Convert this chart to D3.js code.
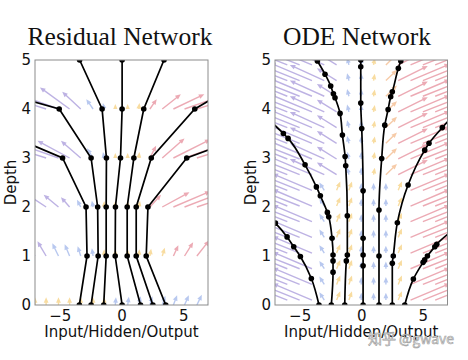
<!DOCTYPE html>
<html>
<head>
<meta charset="utf-8">
<script src="https://d3js.org/d3.v7.min.js"></script>
<style>
  body { margin: 0; background: #fff; }
  svg { display: block; }
</style>
</head>
<body>
<div id="chart"></div>
<script>
// ---------- data ----------
var depthTicks = [0, 1, 2, 3, 4, 5];
var xTicks = [-5, 0, 5];
var xTickLabels = ["\u22125", "0", "5"];

// residual network: unit values at layer 0..5 (values outside the frame get clipped)
var resDepth = [0, 1, 2, 3, 4, 5];
var resT1 = [-3.41, -2.79, -2.87, -4.77, -14.1];
var resT2 = [-2.46, -1.89, -1.93, -2.46, -5.04, -19];
var resT3 = [-1.44, -1.24, -1.24, -1.22, -1.57, -3.39];
var resT4 = [0.05, -0.51, -0.49, -0.08, 0.05, 0.05];
var resT5 = [1.54, 0.46, 0.46, 1.0, 1.8, 3.44];
var resT6 = [2.54, 1.19, 1.19, 2.41, 5.93, 12.6];
var resT7 = [3.58, 2.0, 2.14, 5.28, 16];

// residual field, one row of arrows per layer
var resCols = [-7, -6.1, -5.1, -4.2, -3.3, -2.3, -1.4, -0.5, 0.5, 1.4, 2.3, 3.3, 4.2, 5.1, 6.1, 7];
var resU0 = [0, 0, 0, 0, 0, 0, 0, 0.05, 0.1, 0.15, 0.2, 0.25, 0.3, 0.35, 0.4, 0.4];
var resV0 = [0.16, 0.16, 0.16, 0.16, 0.16, 0.16, 0.16, 0.16, 0.17, 0.18, 0.18, 0.19, 0.2, 0.2, 0.21, 0.21];
var resC0 = "YYYYYYYBBBBBBBBB";
var resU1 = [-0.9, -0.7, -0.5, -0.4, -0.25, -0.1, 0, 0, 0, 0.05, 0.1, 0.2, 0.4, 0.7, 1.0, 1.2];
var resV1 = [0.32, 0.3, 0.26, 0.24, 0.2, 0.16, 0.14, 0.14, 0.14, 0.14, 0.15, 0.17, 0.22, 0.28, 0.32, 0.34];
var resC1 = "PPBBBBYYYYYYRRRR";
var resU2 = [-2.2, -1.8, -1.2, -0.7, -0.3, -0.1, 0, 0, 0, 0.1, 0.9, 2.2, 3.0, 3.5, 4, 4.5];
var resV2 = [0.3, 0.3, 0.25, 0.2, 0.15, 0.13, 0.12, 0.12, 0.12, 0.13, 0.25, 0.3, 0.32, 0.34, 0.35, 0.36];
var resC2 = "PPPPBBYYYYRRRRRR";
var resU3 = [-5, -4.2, -3.4, -2.6, -1.6, -0.5, -0.1, 0, 0, 0.05, 0.5, 1.8, 3, 4, 4.5, 5];
var resV3 = [0.35, 0.33, 0.3, 0.35, 0.35, 0.2, 0.12, 0.1, 0.1, 0.12, 0.25, 0.4, 0.38, 0.36, 0.35, 0.35];
var resC3 = "PPPPPBBYYYRRRRRR";
var resU4 = [-6, -5, -4.2, -2.4, -1.5, -0.55, -0.1, 0, 0, 0.05, 0.55, 1.5, 2.5, 4, 5, 6];
var resV4 = [0.4, 0.4, 0.38, 0.44, 0.35, 0.2, 0.12, 0.1, 0.1, 0.12, 0.2, 0.3, 0.3, 0.35, 0.4, 0.4];
var resC4 = "PPPPPBBYYYRRRRRR";

// ODE network: [x, depth] of the solver's evaluation points
var odeA = [[-3.43, 0], [-4.05, 0.54], [-4.94, 0.99], [-5.48, 1.19], [-6.02, 1.39], [-6.97, 1.67], [-7.6, 1.82]];
var odeB = [[-2.43, 0], [-2.29, 0.67], [-2.29, 0.9], [-2.29, 1.02], [-2.37, 1.36], [-2.64, 1.8], [-2.75, 1.89],
            [-3.32, 2.23], [-3.64, 2.41], [-4.56, 2.86], [-5.94, 3.4], [-6.32, 3.5], [-7.6, 3.8]];
var odeC = [[-1.34, 0], [-1.21, 0.9], [-1.13, 1.02], [-1.13, 1.82], [-1.26, 2.84], [-1.31, 3.03], [-1.53, 3.47],
            [-1.72, 3.91], [-2.13, 4.23], [-2.26, 4.31], [-2.48, 4.47], [-2.94, 4.71], [-3.56, 4.98], [-4.1, 5.2]];
var odeD = [[0.15, 0], [0.15, 0.8], [0.15, 1.02], [0.15, 1.36], [0.15, 2.33], [0.04, 3.6], [-0.04, 4.12],
            [-0.04, 4.86], [-0.04, 5], [-0.04, 5.2]];
var odeE = [[1.44, 0], [1.44, 1.0], [1.44, 1.94], [1.66, 2.99], [1.91, 3.67], [2.18, 3.99], [2.39, 4.25],
            [2.52, 4.35], [3.01, 4.83], [3.21, 4.98], [3.5, 5.2]];
var odeF = [[2.52, 0], [2.52, 0.85], [2.6, 1.0], [2.93, 1.68], [3.8, 2.45], [5.15, 3.16], [5.5, 3.3],
            [6.58, 3.62], [7.6, 3.9]];
var odeG = [[3.53, 0], [4.23, 0.53], [5.02, 0.87], [5.15, 0.92], [5.37, 1.0], [5.97, 1.19], [6.13, 1.24], [7.6, 1.56]];

// ODE field
var odeCols = [-7, -6, -5, -4, -3, -2, -1, 0, 1, 2, 3, 4, 5, 6, 7];
var odeRowsLow = [0.1, 0.42, 0.74, 1.06, 1.38, 1.7, 2.02, 2.34];
var odeULow = [-4, -4, -3.8, -3.2, -0.4, 0.3, 0.25, 0, 0, 0, 0.3, 3.2, 3.8, 4, 4];
var odeVLow = [0.4, 0.4, 0.38, 0.34, 0.16, 0.18, 0.18, 0.15, 0.15, 0.15, 0.18, 0.34, 0.38, 0.4, 0.4];
var odeCLow = "PPPPBYYBBBYRRRR";
var odeRowsHigh = [2.66, 2.98, 3.3, 3.62, 3.94, 4.26, 4.58, 4.9];
var odeUHigh = [-4, -4, -3.8, -3.4, -2.8, -1.6, -0.15, 0, 0.1, 0.9, 2.4, 3.2, 3.8, 4, 4];
var odeVHigh = [0.4, 0.4, 0.38, 0.36, 0.32, 0.25, 0.15, 0.15, 0.14, 0.22, 0.3, 0.34, 0.38, 0.4, 0.4];
var odeCHigh = "PPPPPPBBYORRRRR";

var arrowColors = { P: "#8672cc", B: "#7e9be2", Y: "#f2c052", O: "#eea060", R: "#dc6476" };

// ---------- drawing ----------
var W = 468, H = 360;
var svg = d3.select("#chart").append("svg").attr("width", W).attr("height", H);

var y = d3.scaleLinear().domain([0, 5]).range([305, 60]);
var xRes = d3.scaleLinear().domain([-7, 7]).range([35, 208]);
var xOde = d3.scaleLinear().domain([-7, 7]).range([275, 447.5]);

function arrowPath(x0, y0, x1, y1) {
  var dx = x1 - x0, dy = y1 - y0, L = Math.sqrt(dx * dx + dy * dy);
  if (L < 0.5) return "";
  var ux = dx / L, uy = dy / L, nx = -uy, ny = ux;
  var hl = Math.min(5.5, L), hw = 2.4 * hl / 5.5, sw = 0.7;
  var nkx = x1 - ux * hl, nky = y1 - uy * hl;
  var p = [
    [x0 + nx * sw, y0 + ny * sw], [nkx + nx * sw, nky + ny * sw], [nkx + nx * hw, nky + ny * hw],
    [x1, y1],
    [nkx - nx * hw, nky - ny * hw], [nkx - nx * sw, nky - ny * sw], [x0 - nx * sw, y0 - ny * sw]
  ];
  return "M" + p.map(function (q) { return q[0].toFixed(2) + "," + q[1].toFixed(2); }).join("L") + "Z";
}

function makePanel(id, x, title, titleX) {
  var g = svg.append("g");
  svg.append("clipPath").attr("id", id)
    .append("rect").attr("x", x.range()[0]).attr("y", 60)
    .attr("width", x.range()[1] - x.range()[0]).attr("height", 245);
  var plot = g.append("g").attr("clip-path", "url(#" + id + ")");

  g.append("text").attr("x", titleX).attr("y", 45)
    .attr("text-anchor", "middle")
    .style("font-family", "'Liberation Serif', 'Times New Roman', serif")
    .style("font-size", "25.5px").style("fill", "#111")
    .text(title);

  var ya = g.append("g").attr("transform", "translate(" + x.range()[0] + ",0)")
    .call(d3.axisLeft(y).tickValues(depthTicks).tickSize(0).tickPadding(4).tickFormat(d3.format("d")));
  var xa = g.append("g").attr("transform", "translate(0,305)")
    .call(d3.axisBottom(x).tickValues(xTicks).tickSize(0).tickPadding(5)
      .tickFormat(function (d, i) { return xTickLabels[i]; }));
  [ya, xa].forEach(function (a) {
    a.select(".domain").remove();
    a.selectAll("text").style("font-family", "'DejaVu Sans', sans-serif")
      .style("font-size", "15px").style("fill", "#111");
  });

  var xm = (x.range()[0] + x.range()[1]) / 2;
  g.append("text").attr("x", xm).attr("y", 337)
    .attr("text-anchor", "middle")
    .style("font-family", "'DejaVu Sans', sans-serif").style("font-size", "15px").style("fill", "#111")
    .text("Input/Hidden/Output");
  g.append("text")
    .attr("transform", "translate(" + (x.range()[0] - 19) + ",182.5) rotate(-90)")
    .attr("text-anchor", "middle")
    .style("font-family", "'DejaVu Sans', sans-serif").style("font-size", "15px").style("fill", "#111")
    .text("Depth");

  return { g: g, plot: plot, x: x };
}

function drawArrows(plot, x, cols, rows, U, V, C) {
  var arrows = [];
  rows.forEach(function (d, r) {
    cols.forEach(function (c, i) {
      var u = Array.isArray(U[0]) ? U[r][i] : U[i];
      var v = Array.isArray(V[0]) ? V[r][i] : V[i];
      var k = Array.isArray(C) ? C[r][i] : C[i];
      arrows.push({ x0: c, d0: d, x1: c + u, d1: d + v, k: k });
    });
  });
  plot.append("g").selectAll("path").data(arrows).join("path")
    .attr("d", function (a) { return arrowPath(x(a.x0), y(a.d0), x(a.x1), y(a.d1)); })
    .attr("fill", function (a) { return arrowColors[a.k]; })
    .attr("fill-opacity", 0.55);
}

function drawTrajectory(plot, x, pts, curve) {
  plot.append("path").datum(pts)
    .attr("d", d3.line().x(function (p) { return x(p[0]); }).y(function (p) { return y(p[1]); }).curve(curve))
    .attr("fill", "none").attr("stroke", "#000").attr("stroke-width", 1.7);
  plot.append("g").selectAll("circle").data(pts).join("circle")
    .attr("cx", function (p) { return x(p[0]); })
    .attr("cy", function (p) { return y(p[1]); })
    .attr("r", 2.8).attr("fill", "#000");
}

// left: residual network
var left = makePanel("clipRes", xRes, "Residual Network", 120);
drawArrows(left.plot, xRes, resCols, [0, 1, 2, 3, 4],
  [resU0, resU1, resU2, resU3, resU4], [resV0, resV1, resV2, resV3, resV4],
  [resC0, resC1, resC2, resC3, resC4]);
[resT1, resT2, resT3, resT4, resT5, resT6, resT7].forEach(function (t) {
  drawTrajectory(left.plot, xRes, t.map(function (v, i) { return [v, resDepth[i]]; }), d3.curveLinear);
});

// right: ODE network
var right = makePanel("clipOde", xOde, "ODE Network", 357);
drawArrows(right.plot, xOde, odeCols, odeRowsLow, odeULow, odeVLow, odeCLow);
drawArrows(right.plot, xOde, odeCols, odeRowsHigh, odeUHigh, odeVHigh, odeCHigh);
[odeA, odeB, odeC, odeD, odeE, odeF, odeG].forEach(function (t) {
  drawTrajectory(right.plot, xOde, t, d3.curveMonotoneY);
});

// frames on top
[xRes, xOde].forEach(function (x) {
  svg.append("rect").attr("x", x.range()[0]).attr("y", 60)
    .attr("width", x.range()[1] - x.range()[0]).attr("height", 245)
    .attr("fill", "none").attr("stroke", "#8c8c8c").attr("stroke-width", 1);
});

// watermark
svg.append("text").attr("x", 411).attr("y", 344).attr("text-anchor", "middle")
  .style("font-family", "'Noto Sans CJK SC', sans-serif").style("font-size", "14px")
  .style("fill", "#f2f2f2").style("stroke", "#9a9a9a").style("stroke-width", 0.6)
  .text("知乎 @gwave");
</script>
</body>
</html>
